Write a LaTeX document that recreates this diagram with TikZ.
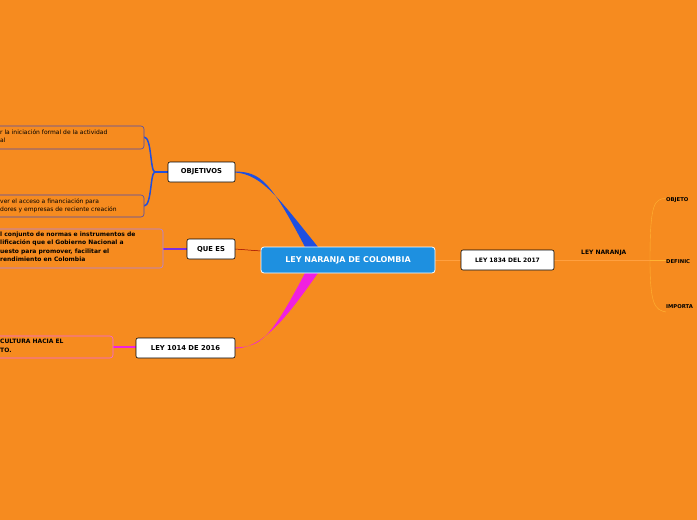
\documentclass[tikz,border=0pt]{standalone}
\usepackage{fontspec}
\setmainfont{DejaVu Sans}
\begin{document}
\begin{tikzpicture}[x=1pt,y=-1pt,
  box/.style={draw=black,fill=white,rounded corners=2pt,font=\fontsize{6.8}{7}\selectfont\bfseries,inner sep=0pt,minimum height=20pt,line width=0.6pt},
  leaf/.style={draw=#1,fill=bg,rounded corners=3pt,inner sep=0pt,line width=0.6pt},
  ltxt/.style={anchor=north west,align=left,font=\fontsize{6}{8}\selectfont,inner sep=0pt}]
\definecolor{bg}{HTML}{F68B1F}
\definecolor{cblue}{HTML}{1E90E0}
\definecolor{lblue}{HTML}{1F4FE0}
\definecolor{lpurp}{HTML}{7A2FE0}
\definecolor{lmag}{HTML}{F020E0}
\definecolor{lorg}{HTML}{FFA040}
\useasboundingbox (0,0) rectangle (697,520);
\clip (0,0) rectangle (697,520);
\fill[bg] (0,0) rectangle (697,520);
% connectors
\fill[lblue] (305,247) .. controls (270,180) and (260,172) .. (235,171.5) -- (235,172.5) .. controls (262,174) and (280,200) .. (318,247) -- cycle;
\fill[lmag] (305,273) .. controls (270,340) and (260,347) .. (235,347.5) -- (235,348.5) .. controls (262,348) and (285,320) .. (318,273) -- cycle;
\draw[red!60!black,line width=0.5pt] (235,249) -- (261,251);
\draw[lorg,line width=1pt] (435,260) -- (461,260);
\draw[lorg,line width=1pt] (554,260) -- (650,260);
\draw[lorg!80!yellow,line width=0.4pt] (650,260) .. controls (650,200) and (655,200) .. (666,198);
\draw[lorg!80!yellow,line width=0.4pt] (650,260) -- (666,260);
\draw[lorg!80!yellow,line width=0.4pt] (650,260) .. controls (650,305) and (655,310) .. (666,312);
\draw[lblue,line width=1.5pt] (168,172) -- (155,172);
\draw[lblue,line width=1.5pt] (155,172) .. controls (150,172) and (152,137) .. (144,137);
\draw[lblue,line width=1.5pt] (155,172) .. controls (150,172) and (152,206) .. (144,206);
\draw[lpurp,line width=2pt] (163,249) -- (187,249);
\draw[lmag,line width=2pt] (113,347) -- (136,347);
% leaves
\node[leaf=gray!60!blue,minimum width=150pt,minimum height=23pt] (l1) at (69,137.5) {};
\node[ltxt] (t1) at (0,129) {r la iniciación formal de la actividad\\al};
\node[leaf=gray!60!blue,minimum width=150pt,minimum height=22pt] (l2) at (69,206) {};
\node[ltxt] (t2) at (0,198) {ver el acceso a financiación para\\dores y empresas de reciente creación};
\node[leaf=lpurp!60,minimum width=170pt,minimum height=39pt] (l3) at (78,248.5) {};
\node[ltxt,font=\fontsize{6}{8.5}\selectfont\bfseries] (t3) at (0,231.5) {l conjunto de normas e instrumentos de\\lificación que el Gobierno Nacional a\\uesto para promover, facilitar el\\rendimiento en Colombia};
\node[leaf=lmag!70,minimum width=120pt,minimum height=22pt] (l4) at (53,347) {};
\node[ltxt,font=\fontsize{6}{8.5}\selectfont\bfseries] (t4) at (0,339) {CULTURA HACIA EL\\TO.};
% main nodes
\node[draw=white,fill=cblue,rounded corners=3pt,minimum width=174pt,minimum height=26pt,text=white,font=\fontsize{8}{8}\selectfont\bfseries,line width=0.8pt] (c) at (348,260) {LEY NARANJA DE COLOMBIA};
\node[box,minimum width=67pt] (obj) at (201.5,172) {OBJETIVOS};
\node[box,minimum width=48pt] (que) at (211,249) {QUE ES};
\node[box,minimum width=99pt] (l1014) at (185.5,348) {LEY 1014 DE 2016};
\node[box,minimum width=93pt,font=\fontsize{6}{7}\selectfont\bfseries] (l1834) at (507.5,260) {LEY 1834 DEL 2017};
\node[anchor=west,inner sep=0pt,font=\fontsize{6}{7}\selectfont\bfseries] (ln) at (581,253) {LEY NARANJA};
\node[anchor=west,inner sep=0pt,font=\fontsize{5.3}{6}\selectfont\bfseries] (o) at (666,200.5) {OBJETO};
\node[anchor=west,inner sep=0pt,font=\fontsize{5.3}{6}\selectfont\bfseries] (d) at (666,261.5) {DEFINIC};
\node[anchor=west,inner sep=0pt,font=\fontsize{5.3}{6}\selectfont\bfseries] (i) at (666,306.5) {IMPORTA};
\end{tikzpicture}
\end{document}
